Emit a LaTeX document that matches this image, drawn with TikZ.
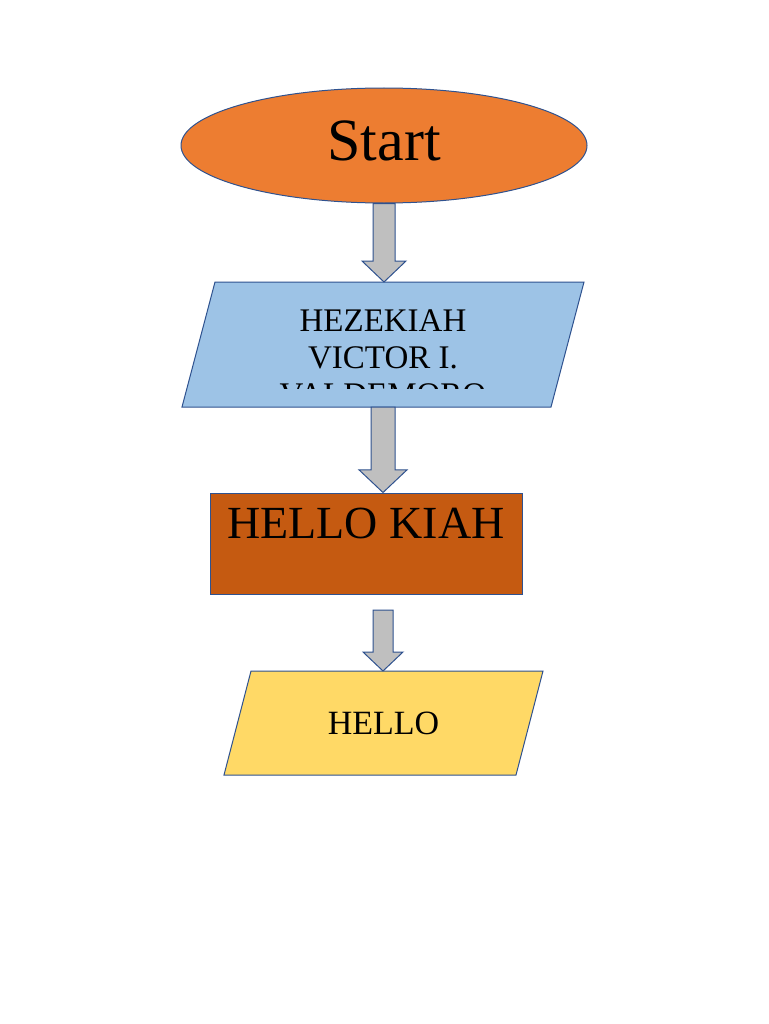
\documentclass[tikz,border=0pt]{standalone}
\usepackage{fontspec}
\setmainfont{Liberation Serif}
\usetikzlibrary{shapes.geometric, calc}

\definecolor{lineblue}{HTML}{2F528F}
\definecolor{startorange}{HTML}{ED7D31}
\definecolor{idblue}{HTML}{9DC3E6}
\definecolor{kiahbrown}{HTML}{C55A11}
\definecolor{helloyellow}{HTML}{FFD966}
\definecolor{arrowgray}{HTML}{BFBFBF}

\tikzset{
    shapeline/.style={draw=lineblue, line width=0.75pt, inner sep=0pt},
    frame/.style={inner sep=0pt, outer sep=0pt},
    blockarrow/.style n args={3}{draw=lineblue, fill=arrowgray, line width=0.75pt,
        to path={let \p1=(\tikztostart), \p2=(\tikztotarget) in
            (\x1-#1,\y1) -- (\x1-#1,\y2+#3) -- (\x1-#2,\y2+#3) -- (\x1,\y2)
            -- (\x1+#2,\y2+#3) -- (\x1+#1,\y2+#3) -- (\x1+#1,\y1) -- cycle}}
}

\begin{document}
\begin{tikzpicture}[x=0.75pt, y=-0.75pt]
    \fill[white] (0,0) rectangle (768,1024);
    \useasboundingbox (0,0) rectangle (768,1024);

    \node[shapeline, ellipse, fill=startorange, minimum width=304.5pt, minimum height=86.25pt,
        font=\fontsize{45pt}{54pt}\selectfont, text height=30pt, text depth=8.25pt] (start) at (384,145.5) {Start};

    % input box
    \node[frame, minimum width=301.5pt, minimum height=93.75pt] (id) at (383,344.5) {};
    \draw[shapeline, fill=idblue] ([xshift=24.75pt]id.north west) -- (id.north east)
        -- ([xshift=-24.75pt]id.south east) -- (id.south west) -- cycle;
    \begin{scope}
        \clip (150,250) rectangle (620,388);
        \node[anchor=base, align=center, inner sep=0pt, font=\fontsize{24.75pt}{27.5pt}\selectfont] (idtext) at (383,405) {HEZEKIAH\\VICTOR I.\\VALDEMORO};
    \end{scope}

    \node[shapeline, rectangle, fill=kiahbrown, minimum width=234pt, minimum height=75.75pt,
        font=\fontsize{34.5pt}{40pt}\selectfont, text height=23pt, text depth=30pt] (kiah) at (366,543.5) {HELLO KIAH};

    % output box
    \node[frame, minimum width=239.25pt, minimum height=78pt] (hello) at (383.5,723) {};
    \draw[shapeline, fill=helloyellow] ([xshift=20.25pt]hello.north west) -- (hello.north east)
        -- ([xshift=-20.25pt]hello.south east) -- (hello.south west) -- cycle;
    \node[inner sep=0pt, font=\fontsize{25.5pt}{30pt}\selectfont] (hellotext) at (hello) {HELLO};

    \coordinate (gap) at (383,610);

    % arrows
    \draw[blockarrow={8.25pt}{16.5pt}{15.75pt}] (start.south) to (id.north);
    \draw[blockarrow={9pt}{18pt}{17pt}] (id.south) to (kiah.north);
    \draw[blockarrow={7.5pt}{15pt}{14.25pt}] (gap) to (hello.north);
\end{tikzpicture}
\end{document}
